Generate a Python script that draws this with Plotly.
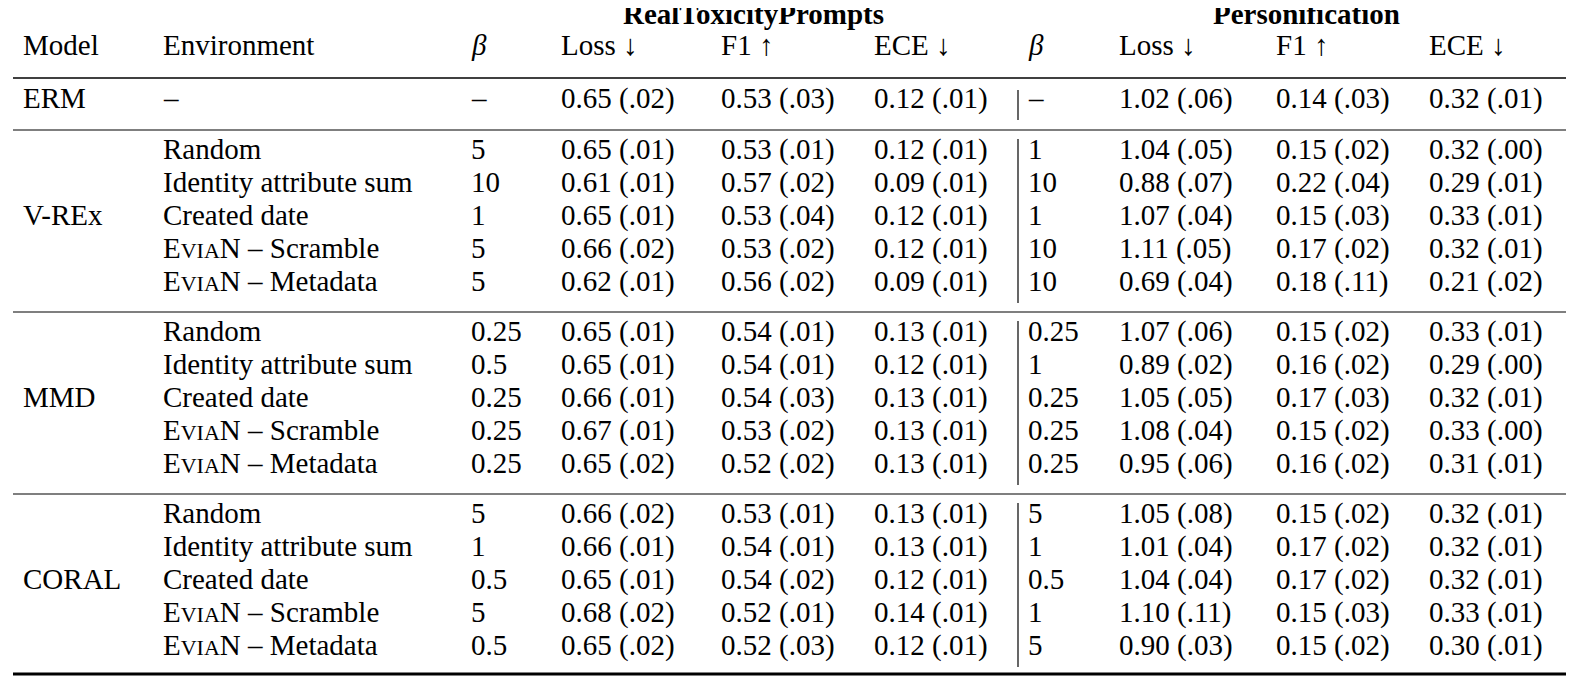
import plotly.graph_objects as go

# table content
groups = ["RealToxicityPrompts", "Personification"]
header = ["Model", "Environment", "β", "Loss ↓", "F1 ↑", "ECE ↓", "β", "Loss ↓", "F1 ↑", "ECE ↓"]
models = ["ERM", "V-REx", "MMD", "CORAL"]
evian = "E<span style='font-size:22px'>VIA</span>N"
envs = ["Random", "Identity attribute sum", "Created date",
        evian + " – Scramble", evian + " – Metadata"]

erm_row = ["–", "0.65 (.02)", "0.53 (.03)", "0.12 (.01)", "–", "1.02 (.06)", "0.14 (.03)", "0.32 (.01)"]

vrex_rows = [
    ["5", "0.65 (.01)", "0.53 (.01)", "0.12 (.01)", "1", "1.04 (.05)", "0.15 (.02)", "0.32 (.00)"],
    ["10", "0.61 (.01)", "0.57 (.02)", "0.09 (.01)", "10", "0.88 (.07)", "0.22 (.04)", "0.29 (.01)"],
    ["1", "0.65 (.01)", "0.53 (.04)", "0.12 (.01)", "1", "1.07 (.04)", "0.15 (.03)", "0.33 (.01)"],
    ["5", "0.66 (.02)", "0.53 (.02)", "0.12 (.01)", "10", "1.11 (.05)", "0.17 (.02)", "0.32 (.01)"],
    ["5", "0.62 (.01)", "0.56 (.02)", "0.09 (.01)", "10", "0.69 (.04)", "0.18 (.11)", "0.21 (.02)"],
]
mmd_rows = [
    ["0.25", "0.65 (.01)", "0.54 (.01)", "0.13 (.01)", "0.25", "1.07 (.06)", "0.15 (.02)", "0.33 (.01)"],
    ["0.5", "0.65 (.01)", "0.54 (.01)", "0.12 (.01)", "1", "0.89 (.02)", "0.16 (.02)", "0.29 (.00)"],
    ["0.25", "0.66 (.01)", "0.54 (.03)", "0.13 (.01)", "0.25", "1.05 (.05)", "0.17 (.03)", "0.32 (.01)"],
    ["0.25", "0.67 (.01)", "0.53 (.02)", "0.13 (.01)", "0.25", "1.08 (.04)", "0.15 (.02)", "0.33 (.00)"],
    ["0.25", "0.65 (.02)", "0.52 (.02)", "0.13 (.01)", "0.25", "0.95 (.06)", "0.16 (.02)", "0.31 (.01)"],
]
coral_rows = [
    ["5", "0.66 (.02)", "0.53 (.01)", "0.13 (.01)", "5", "1.05 (.08)", "0.15 (.02)", "0.32 (.01)"],
    ["1", "0.66 (.01)", "0.54 (.01)", "0.13 (.01)", "1", "1.01 (.04)", "0.17 (.02)", "0.32 (.01)"],
    ["0.5", "0.65 (.01)", "0.54 (.02)", "0.12 (.01)", "0.5", "1.04 (.04)", "0.17 (.02)", "0.32 (.01)"],
    ["5", "0.68 (.02)", "0.52 (.01)", "0.14 (.01)", "1", "1.10 (.11)", "0.15 (.03)", "0.33 (.01)"],
    ["0.5", "0.65 (.02)", "0.52 (.03)", "0.12 (.01)", "5", "0.90 (.03)", "0.15 (.02)", "0.30 (.01)"],
]

# layout positions (pixels)
W, H = 1574, 677
col_x = [22, 162, 470, 560, 720, 873, 1027, 1118, 1275, 1428]
group_x = [745, 1298]
sep_x = 1010
FS = 29
FONT = "Liberation Serif, Times New Roman, serif"

anns = []


def txt(x, y, s, anchor="left", bold=False):
    anns.append(dict(x=x, y=y, xref="x", yref="y", text=("<b>%s</b>" % s) if bold else s,
                     showarrow=False, xanchor=anchor, yanchor="middle",
                     xshift=-9 if anchor == "left" else 0, yshift=6,
                     font=dict(size=FS, color="black", family=FONT)))


shapes = []


def hline(y, w):
    shapes.append(dict(type="line", xref="x", yref="y", x0=5, x1=W - 5, y0=y, y1=y,
                       line=dict(color="black", width=w)))


def vline(y0, y1):
    shapes.append(dict(type="line", xref="x", yref="y", x0=sep_x, x1=sep_x, y0=y0, y1=y1,
                       line=dict(color="black", width=1.2)))


for gx, g in zip(group_x, groups):
    txt(gx, 12, g, anchor="center", bold=True)
for cx, h in zip(col_x, header):
    txt(cx, 43, h if h != "β" else "<i>β</i>")

# ERM row
txt(col_x[0], 96, models[0])
txt(col_x[1], 96, "–")
for cx, v in zip(col_x[2:], erm_row):
    txt(cx, 96, v)
vline(82, 112)

row_h = 33
for model, rows, top in [(models[1], vrex_rows, 147), (models[2], mmd_rows, 329), (models[3], coral_rows, 511)]:
    txt(col_x[0], top + 2 * row_h, model)
    for i, (env, row) in enumerate(zip(envs, rows)):
        y = top + i * row_h
        txt(col_x[1], y, env)
        for cx, v in zip(col_x[2:], row):
            txt(cx, y, v)
    vline(top - 16, top + 4 * row_h + 16)

hline(70, 1.6)
hline(122, 1.2)
hline(304, 1.2)
hline(486, 1.2)
hline(666, 3)

fig = go.Figure()
fig.update_layout(
    width=W, height=H, margin=dict(l=0, r=0, t=0, b=0),
    paper_bgcolor="white", plot_bgcolor="white",
    xaxis=dict(range=[0, W], visible=False, fixedrange=True),
    yaxis=dict(range=[H, 0], visible=False, fixedrange=True),
    annotations=anns, shapes=shapes, showlegend=False,
)
fig.write_html("out.html")
